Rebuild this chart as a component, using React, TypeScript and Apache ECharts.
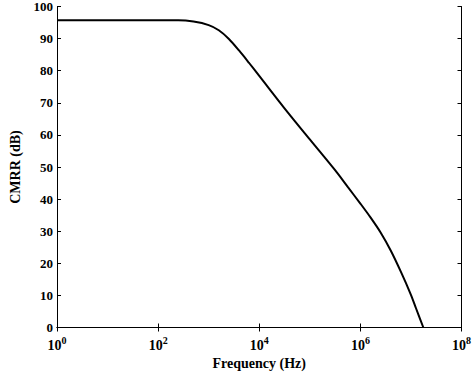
import React, { useEffect, useRef } from "react";
import * as echarts from "echarts";

const freqHz = [1, 10, 100, 251, 501, 1000, 1585, 2512, 3981, 6310, 10000, 31623, 100000, 316228, 562341, 1000000, 1584893, 2511886, 3981072, 6309573, 10000000, 12589254, 17579236];
const cmrrDb = [95.7, 95.7, 95.7, 95.7, 95.3, 94.2, 92.6, 89.9, 86.3, 82.4, 78.4, 68.3, 58.6, 49.0, 43.8, 38.6, 34.3, 29.6, 24.0, 17.4, 10.2, 6.0, 0];
const yTicks = [0, 10, 20, 30, 40, 50, 60, 70, 80, 90, 100];

const FONT = "Liberation Serif";

export default function App() {
  const ref = useRef<HTMLDivElement>(null);
  useEffect(() => {
    document.body.style.margin = "0";
    const chart = echarts.init(ref.current!, null, { renderer: "svg" });
    const axisLine = { show: true, lineStyle: { color: "#000", width: 1 } };
    const xCommon = {
      type: "log" as const,
      logBase: 10,
      min: 1,
      max: 1e8,
      interval: 2,
      splitLine: { show: false },
      axisLine,
      axisTick: { show: true, inside: true, length: 4, lineStyle: { color: "#000" } },
    };
    const yCommon = {
      type: "value" as const,
      min: yTicks[0],
      max: yTicks[yTicks.length - 1],
      interval: 10,
      splitLine: { show: false },
      axisLine,
      axisTick: { show: true, inside: true, length: 4, lineStyle: { color: "#000" } },
    };
    chart.setOption({
      animation: false,
      textStyle: { fontFamily: FONT },
      grid: { left: 57, right: 9, top: 4.5, bottom: 61.5 },
      xAxis: [
        {
          ...xCommon,
          position: "bottom",
          name: "Frequency (Hz)",
          nameLocation: "middle",
          nameGap: 23,
          nameTextStyle: { fontFamily: FONT, fontWeight: "bold", fontSize: 14, color: "#000" },
          axisLabel: {
            margin: 8,
            formatter: (v: number) => {
              const e = Math.round(Math.log10(v));
              return `{b|10}{s|${e}}`;
            },
            rich: {
              b: { fontFamily: FONT, fontWeight: "bold", fontSize: 14, color: "#000" },
              s: { fontFamily: FONT, fontWeight: "bold", fontSize: 10, color: "#000", padding: [0, 0, 9, 0] },
            },
          },
        },
        {
          ...xCommon,
          position: "top",
          axisLabel: { show: false },
        },
      ],
      yAxis: [
        {
          ...yCommon,
          position: "left",
          name: "CMRR (dB)",
          nameLocation: "middle",
          nameRotate: 90,
          nameGap: 29,
          nameTextStyle: { fontFamily: FONT, fontWeight: "bold", fontSize: 14, color: "#000" },
          axisLabel: { margin: 4, fontFamily: FONT, fontWeight: "bold", fontSize: 13, color: "#000" },
        },
        {
          ...yCommon,
          position: "right",
          axisLabel: { show: false },
        },
      ],
      series: [
        {
          type: "line",
          xAxisIndex: 0,
          yAxisIndex: 0,
          data: freqHz.map((f, i) => [f, cmrrDb[i]]),
          showSymbol: false,
          smooth: 0.3,
          lineStyle: { color: "#000", width: 2 },
        },
      ],
    });
    return () => chart.dispose();
  }, []);
  return <div ref={ref} style={{ width: 474, height: 389 }} />;
}
